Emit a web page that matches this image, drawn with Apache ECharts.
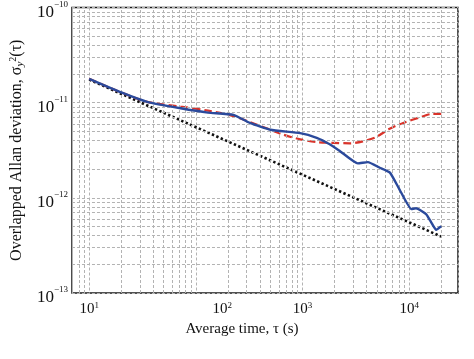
<!DOCTYPE html>
<html><head><meta charset="utf-8">
<script src="https://cdn.jsdelivr.net/npm/echarts@6/dist/echarts.min.js"></script>
<style>html,body{margin:0;padding:0;background:#fff}#c{width:474px;height:359px}</style>
</head><body><div id="c"></div>
<script>
// Averaging times (s) and overlapped Allan deviation values
const blueTau = [10, 20, 35, 72, 130, 225, 325, 500, 950, 1360, 1800, 2250, 3300, 4100, 5300, 6600, 8100, 10500, 11600, 14400, 16100, 17900, 20000];
const blueValues = [1.78e-11, 1.28e-11, 1.02e-11, 8.73e-12, 7.87e-12, 7.45e-12, 6.08e-12, 5.19e-12, 4.79e-12, 4.27e-12, 3.65e-12, 3.09e-12, 2.30e-12, 2.37e-12, 2.07e-12, 1.84e-12, 1.23e-12, 7.62e-13, 7.78e-13, 6.76e-13, 5.53e-13, 4.61e-13, 5.05e-13];
const redTau = [10, 20, 35, 72, 130, 225, 325, 500, 660, 950, 1360, 1930, 2780, 3680, 4930, 6560, 8670, 13300, 16500, 20000];
const redValues = [1.78e-11, 1.28e-11, 1.02e-11, 9.08e-12, 8.26e-12, 7.23e-12, 6.23e-12, 5.19e-12, 4.61e-12, 4.12e-12, 3.85e-12, 3.78e-12, 3.74e-12, 3.92e-12, 4.37e-12, 5.32e-12, 6.08e-12, 7.15e-12, 7.62e-12, 7.62e-12];
const refTau = [10, 20000];
const refValues = [1.75e-11, 3.91e-13];
const xRange = [6.9, 28700];
const yRange = [1e-13, 1e-10];
const xTickExponents = [1, 2, 3, 4];
const yTickExponents = [-13, -12, -11, -10];

const FONT = '"Liberation Serif", "DejaVu Serif", serif';
const pairs = (xs, ys) => xs.map((x, i) => [x, ys[i]]);

// minor log grid values (2..9 per decade)
const xMinor = [], yMinor = [];
for (let d = 1; d <= 1e4; d *= 10) for (let m = 2; m <= 9; m++) { const v = m * d; if (v > xRange[0] && v < xRange[1]) xMinor.push(v); }
for (let e = -13; e < -10; e++) for (let m = 2; m <= 9; m++) yMinor.push(parseFloat((m * Math.pow(10, e)).toPrecision(3)));

function expOf(v) { const e = Math.log10(v); const r = Math.round(e); return Math.abs(e - r) < 1e-6 ? r : null; }

const chart = echarts.init(document.getElementById('c'), null, { renderer: 'canvas' });
const gridLine = { color: '#b3b3b3', type: [3, 2], width: 1 };
const gridMarks = xMinor.map(v => [{ coord: [v, yRange[0]] }, { coord: [v, yRange[1]] }])
  .concat(yMinor.map(v => [{ coord: [xRange[0], v] }, { coord: [xRange[1], v] }]));
chart.setOption({
  animation: false,
  backgroundColor: '#fff',
  grid: { left: 71, right: 16, top: 5, bottom: 66, show: true, borderColor: '#1a1a1a', borderWidth: 1.5, backgroundColor: 'transparent' },
  xAxis: {
    type: 'log', logBase: 10, min: xRange[0], max: xRange[1],
    axisLine: { show: false }, axisTick: { show: false },
    splitLine: { show: true, lineStyle: gridLine },
    name: 'Average time, τ (s)', nameLocation: 'middle', nameGap: 24,
    nameTextStyle: { fontFamily: FONT, fontSize: 15, color: '#111', padding: [0, 46, 0, 0] },
    axisLabel: {
      margin: 5, showMinLabel: true, showMaxLabel: true,
      formatter: v => { const r = expOf(v); if (r === null || xTickExponents.indexOf(r) < 0) return ''; return (r === 2 ? '{bs|10}' : '{b|10}') + '{s|' + r + '}'; },
      rich: {
        b: { fontFamily: FONT, fontSize: 15, color: '#111', padding: [4, 0, 0, 0] },
        bs: { fontFamily: FONT, fontSize: 15, color: '#111', padding: [4, 0, 0, 53] },
        s: { fontFamily: FONT, fontSize: 9, color: '#111', padding: [0, 0, 4, 0] }
      }
    }
  },
  yAxis: {
    type: 'log', logBase: 10, min: yRange[0], max: yRange[1],
    axisLine: { show: false }, axisTick: { show: false },
    splitLine: { show: true, lineStyle: gridLine },
    name: '{t|Overlapped Allan deviation, σ}{sub|y}{sup|2}{t|(τ)}',
    nameLocation: 'middle', nameGap: 42, nameRotate: 90,
    nameTextStyle: {
      rich: {
        t: { fontFamily: FONT, fontSize: 16, color: '#111' },
        sub: { fontFamily: FONT, fontSize: 11, fontStyle: 'italic', color: '#111', padding: [7, 0, 0, 0] },
        sup: { fontFamily: FONT, fontSize: 10, color: '#111', padding: [0, 0, 8, 0] }
      }
    },
    axisLabel: {
      margin: 4,
      formatter: v => { const r = expOf(v); if (r === null || yTickExponents.indexOf(r) < 0) return ''; return '{b|10}{s|' + String(r).replace('-', '−') + '}'; },
      rich: {
        b: { fontFamily: FONT, fontSize: 17, color: '#111', padding: [10, 0, 0, 0] },
        s: { fontFamily: FONT, fontSize: 9, color: '#111', padding: [0, 0, 6, 0] }
      }
    }
  },
  series: [
    {
      type: 'line', data: pairs(refTau, refValues), symbol: 'none', silent: true, z: 1,
      lineStyle: { opacity: 0 },
      markLine: {
        silent: true, symbol: 'none', label: { show: false }, animation: false,
        lineStyle: gridLine,
        data: gridMarks
      }
    },
    {
      type: 'line', data: pairs(refTau, refValues), symbol: 'none', z: 3,
      lineStyle: { color: '#111', width: 2.6, type: [2.4, 2.4] }
    },
    {
      type: 'line', data: pairs(redTau, redValues), symbol: 'none', smooth: 0.3, z: 4,
      lineStyle: { color: '#d9342b', width: 2.2, type: [8, 4] }
    },
    {
      type: 'line', data: pairs(blueTau, blueValues), symbol: 'none', smooth: 0.15, z: 5,
      lineStyle: { color: '#2b4a9c', width: 2.4 }
    }
  ]
});
</script></body></html>
